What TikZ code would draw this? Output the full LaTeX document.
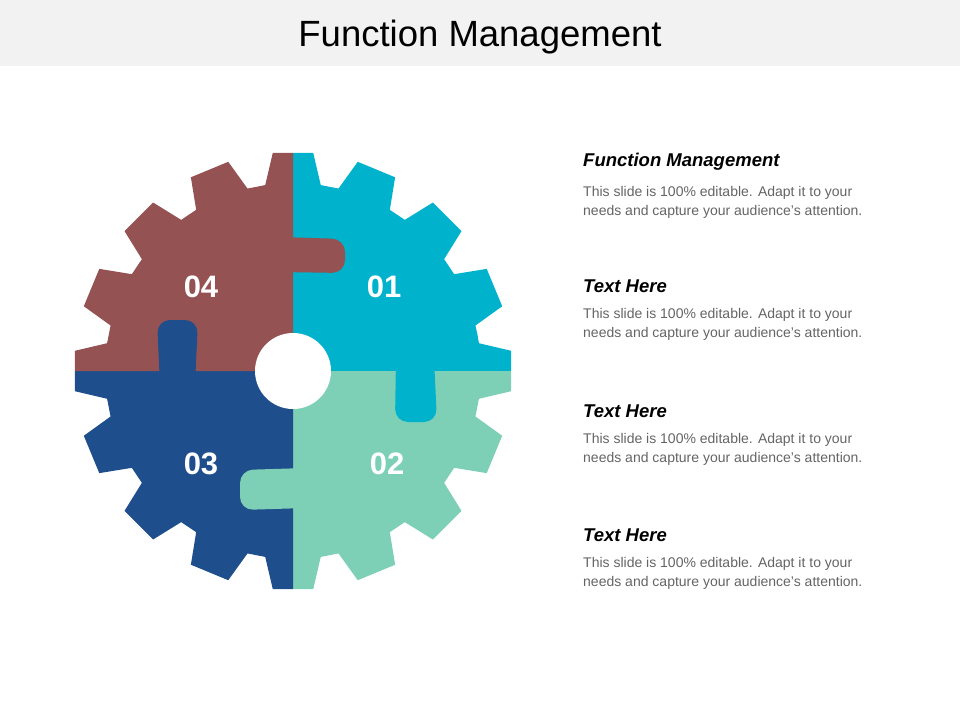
\documentclass[tikz,border=0pt]{standalone}
\usepackage{fontspec}
\setmainfont{Liberation Sans}
\usetikzlibrary{positioning}
\definecolor{mybrown}{RGB}{149,82,82}
\definecolor{mycyan}{RGB}{0,178,204}
\definecolor{mymint}{RGB}{125,207,182}
\definecolor{mynavy}{RGB}{31,78,140}
\definecolor{mytext}{RGB}{100,100,100}
\definecolor{myband}{RGB}{242,242,242}
\begin{document}
\begin{tikzpicture}[x=1pt,y=-1pt,inner sep=0pt]
\tikzstyle{num}=[text=white,font=\fontsize{31}{34}\selectfont\bfseries]
\tikzstyle{head}=[anchor=west,font=\fontsize{18.5}{22}\selectfont\bfseries\itshape]
\tikzstyle{body}=[align=left,text=mytext,font=\fontsize{14}{19}\selectfont]
\tikzstyle{knob}=[rounded corners=13pt]
\useasboundingbox (0,0) rectangle (960,720);
\fill[myband] (0,0) rectangle (960,66);
\node[font=\fontsize{36.5}{40}\selectfont] (title) at (480,37) {Function Management};

% gear, one colour per quarter
\begin{scope}[shift={(293,371)}]
\foreach \lo/\col in {-90/mycyan,0/mymint,90/mynavy,180/mybrown}{
\begin{scope}
\clip (0,0) -- (\lo:260) arc[start angle=\lo,end angle=\lo+90,radius=260] -- cycle;
\fill[\col] (-11.25:188) \foreach \a in {0,22.5,...,337.5}{
 -- (\a-8.5:188) -- (\a-5.3:219) -- (\a+5.3:219) -- (\a+8.5:188)} -- cycle;
\end{scope}}
\end{scope}

% puzzle knobs
\fill[mybrown,knob] (280,237) -- (345,239) -- (345,273) -- (280,272) -- cycle;
\fill[mynavy,knob] (160,385) -- (157,320) -- (198,320) -- (195,385) -- cycle;
\fill[mycyan,knob] (396,358) -- (395,422) -- (437,422) -- (434,358) -- cycle;
\fill[mymint,knob] (306,468) -- (240,470) -- (240,510) -- (306,508) -- cycle;
\fill[white] (293,371) circle[radius=38];

\node[num] (n4) at (201,287) {04};
\node[num] (n1) at (384,287) {01};
\node[num] (n3) at (201,464) {03};
\node[num] (n2) at (387,464) {02};

\node[head] (h1) at (583,162) {Function Management};
\node[body,below=15pt of h1.south west,anchor=north west] (b1) {This slide is 100\% editable. Adapt it to your\\needs and capture your audience's attention.};
\node[head] (h2) at (583,286) {Text Here};
\node[body,below=15pt of h2.south west,anchor=north west] (b2) {This slide is 100\% editable. Adapt it to your\\needs and capture your audience's attention.};
\node[head] (h3) at (583,411) {Text Here};
\node[body,below=15pt of h3.south west,anchor=north west] (b3) {This slide is 100\% editable. Adapt it to your\\needs and capture your audience's attention.};
\node[head] (h4) at (583,535) {Text Here};
\node[body,below=15pt of h4.south west,anchor=north west] (b4) {This slide is 100\% editable. Adapt it to your\\needs and capture your audience's attention.};
\end{tikzpicture}
\end{document}
